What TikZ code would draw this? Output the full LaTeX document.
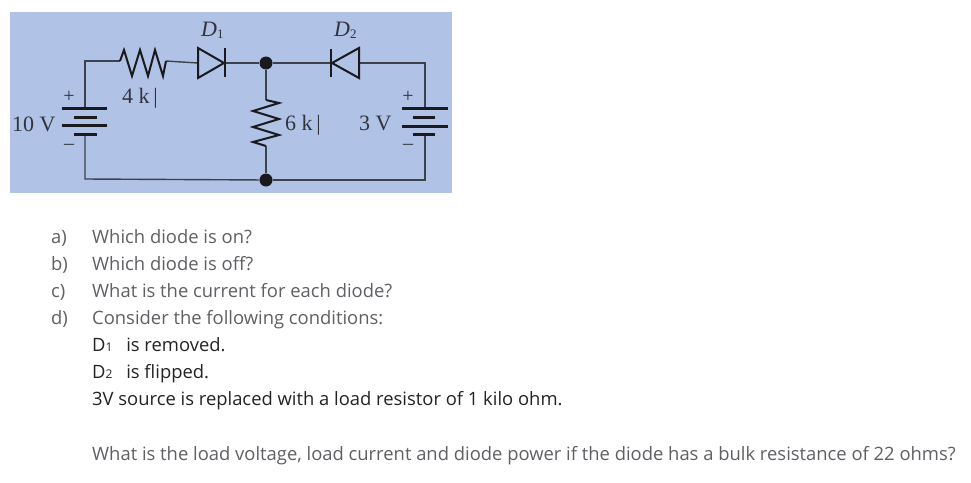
\documentclass[tikz,border=0pt]{standalone}
\usepackage{fontspec}
\setmainfont{Open Sans}
\newfontfamily\circuitfont{Liberation Serif}
\definecolor{panelblue}{RGB}{176,194,230}
\definecolor{wirecol}{RGB}{60,65,75}
\definecolor{inkcol}{RGB}{25,25,30}
\definecolor{labelcol}{RGB}{50,52,60}
\definecolor{qcol}{RGB}{95,95,100}
\definecolor{qdark}{RGB}{35,35,35}
\tikzset{
  wire/.style={draw=wirecol,line width=1.4pt},
  part/.style={draw=inkcol,line width=2pt,line join=miter},
  plate/.style={draw=inkcol,line width=3pt},
  junction/.style={circle,fill=inkcol,inner sep=0pt,minimum size=13pt},
  clabel/.style={font=\circuitfont\fontsize{22}{22}\selectfont,text=labelcol,inner sep=0pt,anchor=base west},
  sign/.style={font=\circuitfont\fontsize{20}{20}\selectfont,text=labelcol,inner sep=0pt},
  qtext/.style={font=\fontsize{18.4}{20}\selectfont,text=qcol,anchor=base west,inner sep=0pt},
  qstrong/.style={font=\fontsize{18.4}{20}\selectfont,text=qdark,anchor=base west,inner sep=0pt},
}
\begin{document}
\begin{tikzpicture}[x=1pt,y=-1pt]
\useasboundingbox (0,0) rectangle (971,482);
\fill[panelblue] (10,12) rectangle (452,193);
% anchor points
\coordinate (tl) at (85,61);
\coordinate (bl) at (85,179);
\coordinate (tr) at (425,63);
\coordinate (br) at (425,180);
\coordinate (r1a) at (120,61);
\coordinate (r1b) at (166,61);
\coordinate (d1a) at (198,63);
\coordinate (d1k) at (225,63);
\coordinate (d2k) at (331,63);
\coordinate (d2a) at (359,63);
\coordinate (r2a) at (266,100);
\coordinate (r2b) at (266,146);
\coordinate (b1p) at (85,108);
\coordinate (b1n) at (85,134);
\coordinate (b2p) at (425,108);
\coordinate (b2n) at (425,134);
\node[junction] (j1) at (266,63) {};
\node[junction] (j2) at (266,180) {};
% wires
\draw[wire] (b1p) -- (tl) -- (r1a);
\draw[wire] (r1b) -- (d1a);
\draw[wire] (d1k) -- (j1);
\draw[wire] (j1) -- (d2k);
\draw[wire] (d2a) -- (tr) -- (b2p);
\draw[wire] (b2n) -- (br) -- (j2);
\draw[wire] (j2) -- (bl) -- (b1n);
\draw[wire] (j1) -- (r2a);
\draw[wire] (r2b) -- (j2);
% resistors
\draw[part] (r1a) -- (124,50) -- (132,76) -- (140,50) -- (148,76) -- (155,50) -- (163,76) -- (r1b);
\draw[part] (r2a) -- (279,103) -- (253,111) -- (279,119) -- (253,127) -- (279,135) -- (253,142) -- (r2b);
% diodes
\draw[part] (198,48) -- (198,78) -- (224,63) -- cycle;
\draw[part] (225,48) -- (225,77);
\draw[part] (359,48) -- (359,78) -- (332,63) -- cycle;
\draw[part] (331,49) -- (331,77);
% batteries
\draw[plate] (62,108) -- (107,108);
\draw[plate] (74,117) -- (97,117);
\draw[plate] (62,125) -- (107,125);
\draw[plate] (74,134) -- (97,134);
\draw[plate] (402,108) -- (448,108);
\draw[plate] (413,117) -- (435,117);
\draw[plate] (402,126) -- (448,126);
\draw[plate] (413,134) -- (435,134);
% circuit labels
\node[clabel] (ld1) at (201,36) {\textit{D}\raisebox{-2pt}{\fontsize{13}{13}\selectfont 1}};
\node[clabel] (ld2) at (334,36) {\textit{D}\raisebox{-2pt}{\fontsize{13}{13}\selectfont 2}};
\node[clabel] (l4k) at (122,103) {4 k\,\textbar};
\node[clabel] (l6k) at (285,130) {6 k\,\textbar};
\node[clabel] (l10) at (12,131) {10 V};
\node[clabel] (l3) at (359,130) {3 V};
\node[sign] (p1) at (69,97) {+};
\node[sign] (m1) at (69,147) {\textendash};
\node[sign] (p2) at (408,97) {+};
\node[sign] (m2) at (408,147) {\textendash};
% questions
\node[qtext] (qa) at (51,243) {a)};
\node[qtext] (qb) at (51,270) {b)};
\node[qtext] (qc) at (51,297) {c)};
\node[qtext] (qd) at (51,324) {d)};
\node[qtext] (ta) at (92,243) {Which diode is on?};
\node[qtext] (tb) at (92,270) {Which diode is off?};
\node[qtext] (tc) at (92,297) {What is the current for each diode?};
\node[qtext] (td) at (92,324) {Consider the following conditions:};
\node[qstrong] (t1) at (92,351) {D{\fontsize{12}{12}\selectfont 1}\hspace{9pt} is removed.};
\node[qstrong] (t2) at (92,378) {D{\fontsize{12}{12}\selectfont 2}\hspace{9pt} is flipped.};
\node[qstrong] (t3) at (92,405) {3V source is replaced with a load resistor of 1 kilo ohm.};
\node[qtext] (t4) at (92,460) {What is the load voltage, load current and diode power if the diode has a bulk resistance of 22 ohms?};
\end{tikzpicture}
\end{document}
